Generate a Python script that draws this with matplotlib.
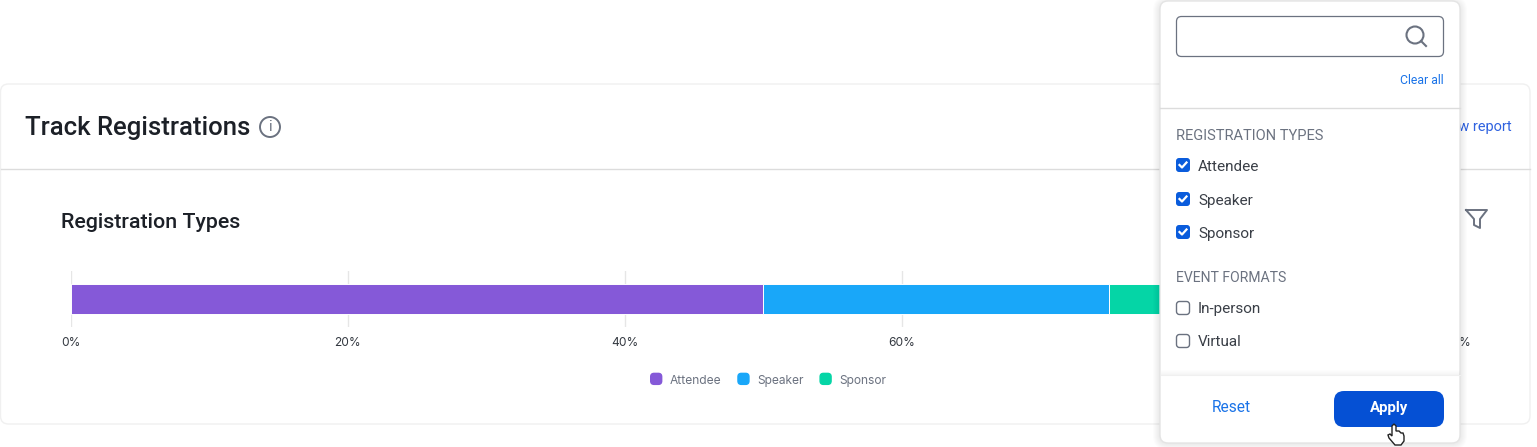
import matplotlib
matplotlib.use("Agg")
import matplotlib.pyplot as plt
from matplotlib.legend_handler import HandlerPatch
from matplotlib.patches import Circle, FancyBboxPatch, Patch, Polygon

# data
categories = ["Attendee", "Speaker", "Sponsor"]
shares = [50, 25, 25]
colors = ["#8559d8", "#19a7f9", "#05d5a6"]
tick_values = [0, 20, 40, 60, 80, 100]
tick_labels = ["0%", "20%", "40%", "60%", "80%", "100%"]
registration_types = ["Attendee", "Speaker", "Sponsor"]
registration_rows = [165, 199, 232]
event_formats = ["In-person", "Virtual"]
event_rows = [308, 341]

W, H = 1537, 447
BLUE = "#1a73e8"
GRAY = "#6b7280"
DARK = "#1c2027"
plt.rcParams["font.family"] = ["Inter", "DejaVu Sans"]


def px(size):
    return size * 0.72


def pixel_axes(fig, zorder):
    ax = fig.add_axes([0, 0, 1, 1], zorder=zorder)
    ax.set_xlim(0, W)
    ax.set_ylim(H, 0)
    ax.axis("off")
    return ax


def rbox(ax, x0, y0, x1, y1, r, **kw):
    p = FancyBboxPatch((x0 + r, y0 + r), x1 - x0 - 2 * r, y1 - y0 - 2 * r,
                       boxstyle=f"round,pad={r},rounding_size={r}", **kw)
    ax.add_patch(p)
    return p


def rounded_handle(legend, orig_handle, xdescent, ydescent, width, height, fontsize):
    s = px(11)
    r = 2.4
    return FancyBboxPatch((r, height / 2 - s / 2 + r), s - 2 * r, s - 2 * r,
                          boxstyle=f"round,pad={r},rounding_size={r}")


fig = plt.figure(figsize=(W / 100, H / 100), dpi=100, facecolor="white")

# card behind the chart
bg = pixel_axes(fig, 0)
rbox(bg, 0.5, 84, 1530, 424, 8, fc="white", ec="#f0f0f0", lw=1)
bg.plot([0.5, 1530], [169, 169], color="#dcdcdc", lw=1)
bg.text(25, 128, "Track Registrations", fontsize=px(25.8), fontweight="medium",
        color=DARK, va="center", family="Roboto")
bg.add_patch(Circle((270, 127), 10, fc="none", ec=GRAY, lw=1.4))
bg.text(270, 127, "i", fontsize=px(15), color=GRAY, ha="center", va="center")
bg.text(61, 222, "Registration Types", fontsize=px(21.4), fontweight="medium",
        color=DARK, va="center", family="Roboto")
bg.text(1512, 126.5, "View report", fontsize=px(14.5), color="#2f62e0", ha="right",
        va="center", family="Roboto")
bg.plot([1466, 1487, 1480, 1480, 1474, 1474, 1466],
        [210, 210, 219, 228, 225, 219, 210], color=GRAY, lw=1.4)

# the stacked bar
ax = fig.add_axes([70.5 / W, 1 - 327 / H, 1385 / W, 56 / H], zorder=1)
left = 0
for name, value, color in zip(categories, shares, colors):
    ax.barh(0, value, left=left, height=0.52, color=color, edgecolor="white",
            linewidth=0.7, label=name, zorder=3)
    left += value
ax.set_xlim(0, 100)
ax.set_ylim(-0.5, 0.5)
ax.set_yticks([])
ax.set_xticks(tick_values)
ax.set_xticklabels(tick_labels, fontsize=px(12), color="#333840")
ax.tick_params(axis="x", length=0, pad=7)
ax.grid(axis="x", color="#e6e6e6", lw=1, zorder=0)
for side in ax.spines.values():
    side.set_visible(False)
ax.patch.set_alpha(0)
leg_handles = [Patch(color=c, label=n) for n, c in zip(categories, colors)]
ax.legend(handles=leg_handles, loc="center", ncols=3, frameon=False,
          bbox_to_anchor=(768.5 / W, 1 - 381 / H), bbox_transform=fig.transFigure,
          fontsize=px(12), labelcolor=GRAY, handlelength=0.92, handleheight=1,
          handletextpad=0.68, columnspacing=1.37, borderpad=0,
          handler_map={Patch: HandlerPatch(patch_func=rounded_handle)})

# filter popup sits on top of everything
top = pixel_axes(fig, 2)
for i in range(8):
    rbox(top, 1160 - i, 1 - i + 2, 1460 + i, 443 + i, 8 + i, fc="black", ec="none", alpha=0.012)
rbox(top, 1160, 1, 1460, 443, 8, fc="white", ec="#e4e4e4", lw=1)
rbox(top, 1176.5, 16.5, 1443.5, 56.5, 5, fc="white", ec=GRAY, lw=0.9)
top.add_patch(Circle((1415, 35), 8.5, fc="none", ec=GRAY, lw=1.5))
top.plot([1421, 1426], [41, 46], color=GRAY, lw=1.5)
top.text(1444, 80, "Clear all", fontsize=px(12.3), color=BLUE, ha="right", va="center", family="Roboto")
top.plot([1160, 1460], [108, 108], color="#dcdcdc", lw=1)

top.text(1176, 135.5, "REGISTRATION TYPES", fontsize=px(14.6), color=GRAY, va="center", family="Roboto")
top.text(1176, 277.5, "EVENT FORMATS", fontsize=px(14), color=GRAY, va="center", family="Roboto")
for name, y in zip(registration_types, registration_rows):
    rbox(top, 1176, y - 7, 1190, y + 7, 3, fc="#0a5cdc", ec="none")
    top.plot([1179.5, 1182, 1186.5], [y, y + 2.5, y - 2.5], color="white", lw=1.6)
    top.text(1198, y + 2, name, fontsize=px(15.2), color="#3a3f47", va="center", family="Roboto")
for name, y in zip(event_formats, event_rows):
    rbox(top, 1176.5, y - 6.5, 1189.5, y + 6.5, 3, fc="white", ec=GRAY, lw=1)
    top.text(1198, y + 1, name, fontsize=px(15.2), color="#3a3f47", va="center", family="Roboto")

# footer with a soft shadow above it
for i in range(6):
    top.fill_between([1160.5, 1459.5], 375 - i, 375, color="black", alpha=0.006, lw=0)
top.plot([1160.5, 1459.5], [375, 375], color="#f0f0f0", lw=0.8)
top.text(1231, 408, "Reset", fontsize=px(15.5), color=BLUE, ha="center", va="center", family="Roboto")
rbox(top, 1334, 391, 1444, 427, 10, fc="#0550d4", ec="none")
top.text(1389, 408, "Apply", fontsize=px(15), color="white", fontweight="bold", ha="center", va="center", family="Roboto")

# hand cursor
hand = [(1392, 426), (1394, 424), (1396, 426), (1396, 431), (1399, 431), (1401, 433),
        (1403, 433), (1404, 436), (1404, 441), (1401, 445), (1395, 445), (1389, 438),
        (1388, 435), (1390, 434), (1392, 436)]
top.add_patch(Polygon(hand, closed=True, fc="white", ec="#222222", lw=1, zorder=5))

fig.savefig("out.png", dpi=100)
